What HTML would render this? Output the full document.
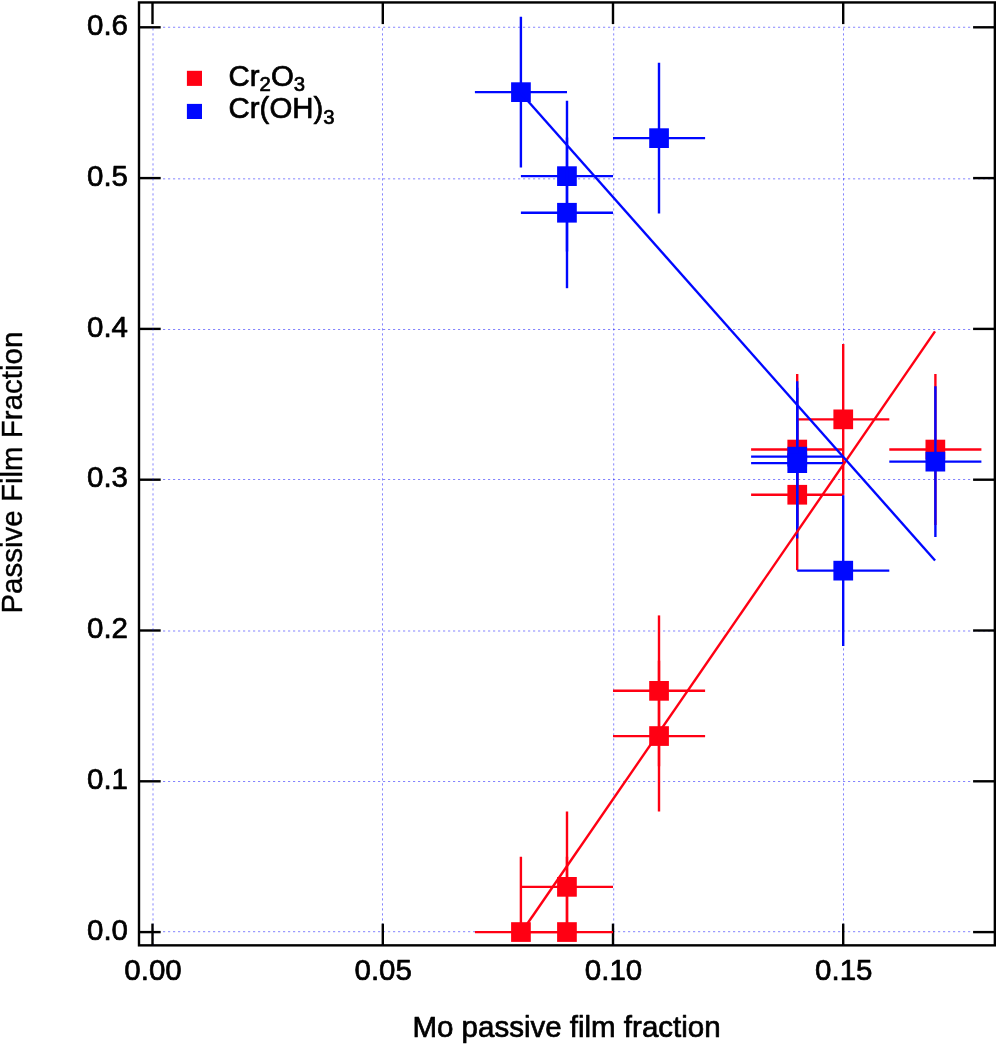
<!DOCTYPE html>
<html><head><meta charset="utf-8"><title>Passive Film Fraction</title>
<style>html,body{margin:0;padding:0;background:#fff}svg{display:block}text{font-family:"Liberation Sans",Arial,Helvetica,sans-serif;fill:#000;stroke:#000;stroke-width:0.7px;stroke-linejoin:round}</style></head><body>
<svg width="996" height="1044" viewBox="0 0 996 1044">
<rect width="996" height="1044" fill="#fff"/>
<defs><clipPath id="c"><rect x="139.00" y="2.45" width="855.85" height="942.90"/></clipPath></defs>
<g stroke="#0000ff" stroke-opacity="0.48" stroke-width="1" stroke-dasharray="2.2 2.8" fill="none">
<line x1="163.0" y1="931.70" x2="994.9" y2="931.70"/>
<line x1="163.0" y1="781.50" x2="994.9" y2="781.50"/>
<line x1="163.0" y1="631.00" x2="994.9" y2="631.00"/>
<line x1="163.0" y1="479.50" x2="994.9" y2="479.50"/>
<line x1="163.0" y1="329.50" x2="994.9" y2="329.50"/>
<line x1="163.0" y1="178.85" x2="994.9" y2="178.85"/>
<line x1="163.0" y1="27.25" x2="994.9" y2="27.25"/>
</g>
<g stroke="#000" fill="none" stroke-width="2.4">
<rect x="139.00" y="2.45" width="855.85" height="942.90"/>
<line x1="139.0" y1="932.1" x2="160.7" y2="932.1"/>
<line x1="994.9" y1="932.1" x2="973.1" y2="932.1"/>
<line x1="139.0" y1="781.3" x2="160.7" y2="781.3"/>
<line x1="994.9" y1="781.3" x2="973.1" y2="781.3"/>
<line x1="139.0" y1="630.5" x2="160.7" y2="630.5"/>
<line x1="994.9" y1="630.5" x2="973.1" y2="630.5"/>
<line x1="139.0" y1="479.7" x2="160.7" y2="479.7"/>
<line x1="994.9" y1="479.7" x2="973.1" y2="479.7"/>
<line x1="139.0" y1="328.9" x2="160.7" y2="328.9"/>
<line x1="994.9" y1="328.9" x2="973.1" y2="328.9"/>
<line x1="139.0" y1="178.1" x2="160.7" y2="178.1"/>
<line x1="994.9" y1="178.1" x2="973.1" y2="178.1"/>
<line x1="139.0" y1="27.3" x2="160.7" y2="27.3"/>
<line x1="994.9" y1="27.3" x2="973.1" y2="27.3"/>
</g>
<g stroke="#0000ff" stroke-opacity="0.48" stroke-width="1" stroke-dasharray="2.2 2.8" fill="none">
<line x1="153.0" y1="28.3" x2="153.0" y2="945.4"/>
<line x1="382.5" y1="28.3" x2="382.5" y2="945.4"/>
<line x1="613.7" y1="28.3" x2="613.7" y2="945.4"/>
<line x1="843.5" y1="28.3" x2="843.5" y2="945.4"/>
</g>
<g stroke="#000" fill="none" stroke-width="2.4">
<line x1="152.5" y1="2.5" x2="152.5" y2="24.1"/>
<line x1="152.5" y1="945.4" x2="152.5" y2="923.6"/>
<line x1="382.8" y1="2.5" x2="382.8" y2="24.1"/>
<line x1="382.8" y1="945.4" x2="382.8" y2="923.6"/>
<line x1="613.0" y1="2.5" x2="613.0" y2="24.1"/>
<line x1="613.0" y1="945.4" x2="613.0" y2="923.6"/>
<line x1="843.2" y1="2.5" x2="843.2" y2="24.1"/>
<line x1="843.2" y1="945.4" x2="843.2" y2="923.6"/>
</g>
<g clip-path="url(#c)" stroke="#ff0013" stroke-width="2.4" fill="#ff0013">
<line x1="474.9" y1="932.1" x2="567.0" y2="932.1"/>
<line x1="520.9" y1="932.1" x2="520.9" y2="856.7"/>
<rect x="511.1" y="922.2" width="19.7" height="19.7" stroke="none"/>
<line x1="520.9" y1="932.1" x2="613.0" y2="932.1"/>
<line x1="567.0" y1="932.1" x2="567.0" y2="856.7"/>
<rect x="557.1" y="922.2" width="19.7" height="19.7" stroke="none"/>
<line x1="520.9" y1="886.9" x2="613.0" y2="886.9"/>
<line x1="567.0" y1="932.1" x2="567.0" y2="811.5"/>
<rect x="557.1" y="877.0" width="19.7" height="19.7" stroke="none"/>
<line x1="613.0" y1="736.1" x2="705.1" y2="736.1"/>
<line x1="659.0" y1="811.5" x2="659.0" y2="660.7"/>
<rect x="649.2" y="726.2" width="19.7" height="19.7" stroke="none"/>
<line x1="613.0" y1="690.8" x2="705.1" y2="690.8"/>
<line x1="659.0" y1="766.2" x2="659.0" y2="615.4"/>
<rect x="649.2" y="681.0" width="19.7" height="19.7" stroke="none"/>
<line x1="751.1" y1="494.8" x2="843.3" y2="494.8"/>
<line x1="797.2" y1="570.2" x2="797.2" y2="419.4"/>
<rect x="787.4" y="484.9" width="19.7" height="19.7" stroke="none"/>
<line x1="751.1" y1="449.5" x2="843.3" y2="449.5"/>
<line x1="797.2" y1="524.9" x2="797.2" y2="374.1"/>
<rect x="787.4" y="439.7" width="19.7" height="19.7" stroke="none"/>
<line x1="797.2" y1="419.4" x2="889.3" y2="419.4"/>
<line x1="843.2" y1="494.8" x2="843.2" y2="344.0"/>
<rect x="833.4" y="409.5" width="19.7" height="19.7" stroke="none"/>
<line x1="889.3" y1="449.5" x2="981.4" y2="449.5"/>
<line x1="935.4" y1="524.9" x2="935.4" y2="374.1"/>
<rect x="925.5" y="439.7" width="19.7" height="19.7" stroke="none"/>
</g>
<g clip-path="url(#c)" stroke="#0008ff" stroke-width="2.4" fill="#0008ff">
<line x1="474.9" y1="92.1" x2="567.0" y2="92.1"/>
<line x1="520.9" y1="167.5" x2="520.9" y2="16.7"/>
<rect x="511.1" y="82.3" width="19.7" height="19.7" stroke="none"/>
<line x1="520.9" y1="176.1" x2="613.0" y2="176.1"/>
<line x1="567.0" y1="251.5" x2="567.0" y2="100.7"/>
<rect x="557.1" y="166.3" width="19.7" height="19.7" stroke="none"/>
<line x1="520.9" y1="212.8" x2="613.0" y2="212.8"/>
<line x1="567.0" y1="288.2" x2="567.0" y2="137.4"/>
<rect x="557.1" y="202.9" width="19.7" height="19.7" stroke="none"/>
<line x1="613.0" y1="138.1" x2="705.1" y2="138.1"/>
<line x1="659.0" y1="213.5" x2="659.0" y2="62.7"/>
<rect x="649.2" y="128.3" width="19.7" height="19.7" stroke="none"/>
<line x1="751.1" y1="456.6" x2="843.3" y2="456.6"/>
<line x1="797.2" y1="532.0" x2="797.2" y2="381.2"/>
<rect x="787.4" y="446.8" width="19.7" height="19.7" stroke="none"/>
<line x1="751.1" y1="463.1" x2="843.3" y2="463.1"/>
<line x1="797.2" y1="538.5" x2="797.2" y2="387.7"/>
<rect x="787.4" y="453.3" width="19.7" height="19.7" stroke="none"/>
<line x1="797.2" y1="570.6" x2="889.3" y2="570.6"/>
<line x1="843.2" y1="646.0" x2="843.2" y2="495.2"/>
<rect x="833.4" y="560.8" width="19.7" height="19.7" stroke="none"/>
<line x1="889.3" y1="461.6" x2="981.4" y2="461.6"/>
<line x1="935.4" y1="537.0" x2="935.4" y2="386.2"/>
<rect x="925.5" y="451.8" width="19.7" height="19.7" stroke="none"/>
</g>
<g clip-path="url(#c)" stroke-width="2.4" fill="none">
<line x1="520.8" y1="933.2" x2="935" y2="331.4" stroke="#ff0013"/>
<line x1="520.8" y1="93" x2="935.06" y2="560.5" stroke="#0008ff"/>
</g>
<g font-size="29.5">
<text x="153.0" y="980" text-anchor="middle">0.00</text>
<text x="383.2" y="980" text-anchor="middle">0.05</text>
<text x="613.5" y="980" text-anchor="middle">0.10</text>
<text x="843.8" y="980" text-anchor="middle">0.15</text>
<text x="128" y="939.8" text-anchor="end">0.0</text>
<text x="128" y="789.0" text-anchor="end">0.1</text>
<text x="128" y="638.2" text-anchor="end">0.2</text>
<text x="128" y="487.4" text-anchor="end">0.3</text>
<text x="128" y="336.6" text-anchor="end">0.4</text>
<text x="128" y="185.8" text-anchor="end">0.5</text>
<text x="128" y="35.0" text-anchor="end">0.6</text>
</g>
<text x="566.5" y="1037" font-size="29.5" text-anchor="middle">Mo passive film fraction</text>
<text transform="translate(22.4 472.6) rotate(-90)" font-size="29.5" style="stroke-width:0.4px" text-anchor="middle">Passive Film Fraction</text>
<rect x="186.9" y="70.8" width="15.1" height="15.1" fill="#ff0013"/>
<rect x="186.9" y="103.9" width="15.1" height="15.1" fill="#0008ff"/>
<g font-size="29.4">
<text x="228.6" y="85.6">Cr<tspan font-size="20.3" dy="5.5">2</tspan><tspan dy="-5.5">O</tspan><tspan font-size="20.3" dy="5.5">3</tspan></text>
<text x="228.6" y="118.3">Cr(OH)<tspan font-size="20.3" dy="5.5">3</tspan></text>
</g>
</svg></body></html>
